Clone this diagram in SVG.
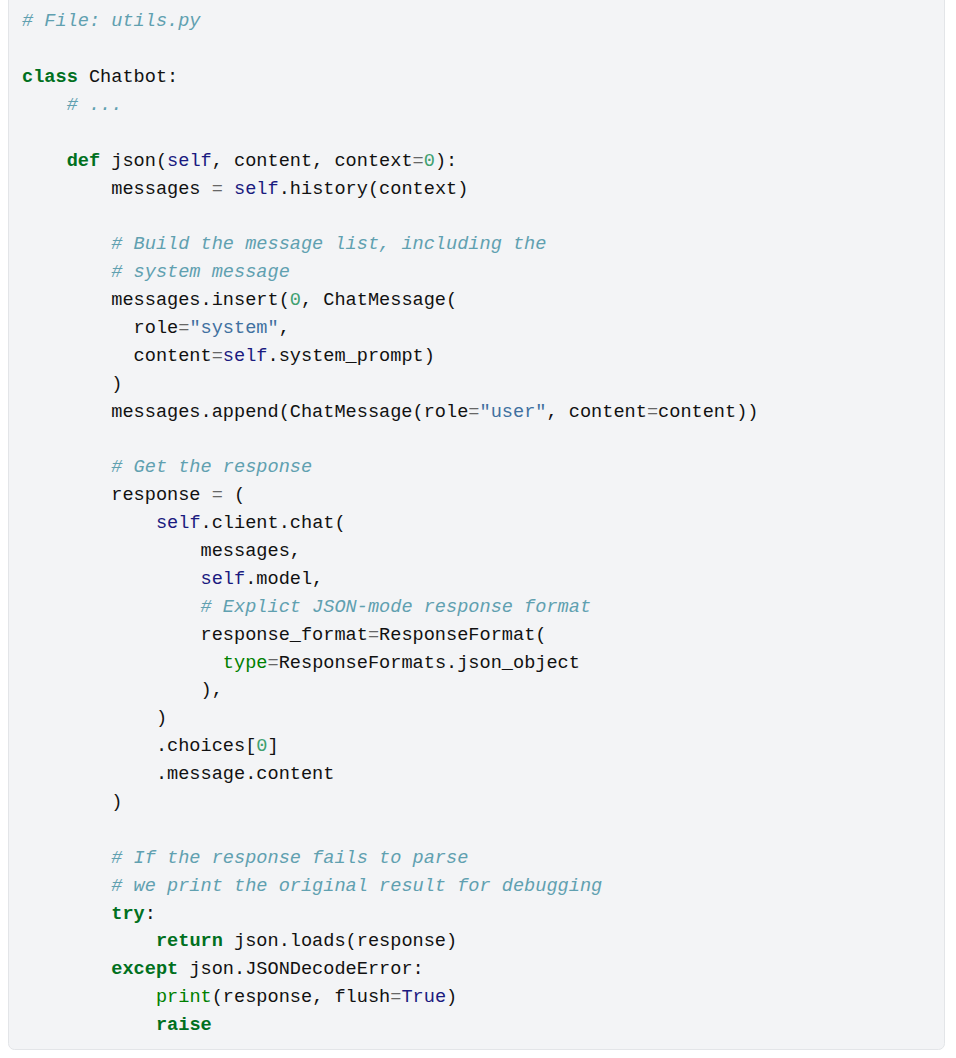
<svg xmlns="http://www.w3.org/2000/svg" width="956" height="1058" viewBox="0 0 956 1058">
<style>
text{font-family:"Liberation Mono","DejaVu Sans Mono",monospace;font-size:18.6px;fill:#111;white-space:pre}
.c{fill:#60a0b0;font-style:italic}
.k{fill:#007020;font-weight:bold}
.s{fill:#1a1a80}
.st{fill:#4070a0}
.n{fill:#40a070}
.o{fill:#666}
.b{fill:#008000}
</style>
<rect x="8.5" y="-6" width="936" height="1055.5" rx="6" fill="#f3f4f6" stroke="#e3e5e8"/>
<g id="code" xml:space="preserve">
<text x="22" y="26"><tspan class="c"># File: utils.py</tspan></text>
<text x="22" y="82"><tspan class="k">class</tspan> Chatbot:</text>
<text x="22" y="110">    <tspan class="c"># ...</tspan></text>
<text x="22" y="166">    <tspan class="k">def</tspan> json(<tspan class="s">self</tspan>, content, context<tspan class="o">=</tspan><tspan class="n">0</tspan>):</text>
<text x="22" y="194">        messages <tspan class="o">=</tspan> <tspan class="s">self</tspan>.history(context)</text>
<text x="22" y="249">        <tspan class="c"># Build the message list, including the</tspan></text>
<text x="22" y="277">        <tspan class="c"># system message</tspan></text>
<text x="22" y="305">        messages.insert(<tspan class="n">0</tspan>, ChatMessage(</text>
<text x="22" y="333">          role<tspan class="o">=</tspan><tspan class="st">"system"</tspan>,</text>
<text x="22" y="361">          content<tspan class="o">=</tspan><tspan class="s">self</tspan>.system_prompt)</text>
<text x="22" y="389">        )</text>
<text x="22" y="417">        messages.append(ChatMessage(role<tspan class="o">=</tspan><tspan class="st">"user"</tspan>, content<tspan class="o">=</tspan>content))</text>
<text x="22" y="472">        <tspan class="c"># Get the response</tspan></text>
<text x="22" y="500">        response <tspan class="o">=</tspan> (</text>
<text x="22" y="528">            <tspan class="s">self</tspan>.client.chat(</text>
<text x="22" y="556">                messages,</text>
<text x="22" y="584">                <tspan class="s">self</tspan>.model,</text>
<text x="22" y="612">                <tspan class="c"># Explict JSON-mode response format</tspan></text>
<text x="22" y="640">                response_format<tspan class="o">=</tspan>ResponseFormat(</text>
<text x="22" y="668">                  <tspan class="b">type</tspan><tspan class="o">=</tspan>ResponseFormats.json_object</text>
<text x="22" y="695">                ),</text>
<text x="22" y="723">            )</text>
<text x="22" y="751">            .choices[<tspan class="n">0</tspan>]</text>
<text x="22" y="779">            .message.content</text>
<text x="22" y="807">        )</text>
<text x="22" y="863">        <tspan class="c"># If the response fails to parse</tspan></text>
<text x="22" y="891">        <tspan class="c"># we print the original result for debugging</tspan></text>
<text x="22" y="919">        <tspan class="k">try</tspan>:</text>
<text x="22" y="946">            <tspan class="k">return</tspan> json.loads(response)</text>
<text x="22" y="974">        <tspan class="k">except</tspan> json.JSONDecodeError:</text>
<text x="22" y="1002">            <tspan class="b">print</tspan>(response, flush<tspan class="o">=</tspan><tspan class="s">True</tspan>)</text>
<text x="22" y="1030">            <tspan class="k">raise</tspan></text>
</g>
</svg>
